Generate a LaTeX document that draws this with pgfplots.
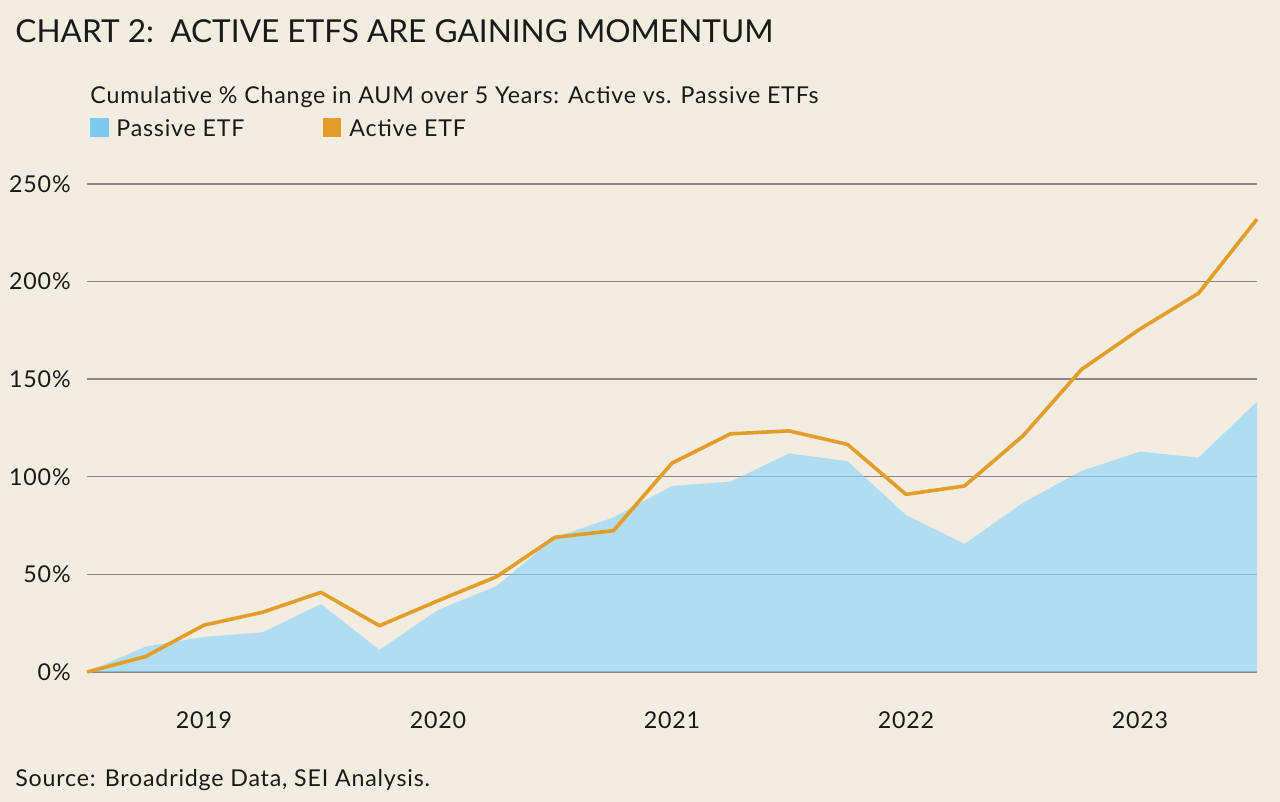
\documentclass[border=0pt]{standalone}
\usepackage{fontspec}
\setmainfont{Lato}[LetterSpace=3.5]
\newfontfamily\titlefont{Lato}
\usepackage{pgfplots}
\pgfplotsset{compat=1.18}
\definecolor{bgc}{RGB}{243,236,224}
\definecolor{gridc}{RGB}{138,136,132}
\definecolor{passivefill}{RGB}{138,212,255}
\definecolor{passivekey}{RGB}{124,203,243}
\definecolor{activec}{RGB}{228,157,42}
\definecolor{txt}{RGB}{26,26,26}
\begin{document}
\begin{tikzpicture}
\path[use as bounding box] (0,0) rectangle (640pt,401pt);
\fill[bgc] (0,0) rectangle (640pt,401pt);

% titles and legend
\node[anchor=base west, inner sep=0pt, text=txt, font=\titlefont\fontsize{15.8}{19}\selectfont] at (7.5pt,379.6pt) {CHART 2:\ \ ACTIVE ETFS ARE GAINING MOMENTUM};
\node[anchor=base west, inner sep=0pt, text=txt, font=\fontsize{11.6}{14}\selectfont] at (45pt,349pt) {Cumulative \% Change in AUM over 5 Years: Active vs. Passive ETFs};
\fill[passivekey] (45pt,332.5pt) rectangle (54.5pt,342pt);
\node[anchor=base west, inner sep=0pt, text=txt, font=\fontsize{11.6}{14}\selectfont] at (58pt,332.5pt) {Passive ETF};
\fill[activec] (161.5pt,332.5pt) rectangle (170.5pt,342pt);
\node[anchor=base west, inner sep=0pt, text=txt, font=\fontsize{11.6}{14}\selectfont] at (174.5pt,332.5pt) {Active ETF};
\node[anchor=base west, inner sep=0pt, text=txt, font=\fontsize{11.6}{14}\selectfont] at (7.5pt,7.5pt) {Source: Broadridge Data, SEI Analysis.};

\begin{axis}[
at={(43.5pt,65pt)}, anchor=south west,
scale only axis,
width=585pt, height=244pt,
xmin=0, xmax=20,
ymin=0, ymax=250,
axis line style={draw=none},
tick style={draw=none},
ymajorgrids,
grid style={color=gridc, line width=0.7pt},
ytick={0,50,100,150,200,250},
yticklabels={0\%,50\%,100\%,150\%,200\%,250\%},
xtick={2,6,10,14,18},
xticklabels={2019,2020,2021,2022,2023},
ticklabel style={text=txt, font=\fontsize{11.6}{14}\selectfont},
yticklabel style={anchor=east, inner sep=0pt, xshift=-8pt},
xticklabel style={anchor=center, inner sep=0pt, yshift=-24pt},
clip=false,
]
% Passive ETF (area)
\addplot[draw=none, fill=passivefill, fill opacity=0.62] coordinates{
(0,0) (1,13) (2,18) (3,20.3) (4,34.8) (5,11.3) (6,31.8) (7,44) (8,69) (9,79.2)
(10,95.3) (11,97.5) (12,112) (13,108) (14,80.4) (15,65.6) (16,86.7) (17,103)
(18,112.9) (19,109.8) (20,138.5)
} \closedcycle;
% Active ETF (line)
\addplot[color=activec, line width=1.8pt, line join=round, mark=none] coordinates{
(0,0) (1,7.9) (2,24) (3,30.6) (4,40.8) (5,23.7) (6,36.5) (7,48.8) (8,69) (9,72.4)
(10,107) (11,122) (12,123.5) (13,116.6) (14,91) (15,95.3) (16,121) (17,155)
(18,175.7) (19,194) (20,232)
};
\end{axis}
\end{tikzpicture}
\end{document}
